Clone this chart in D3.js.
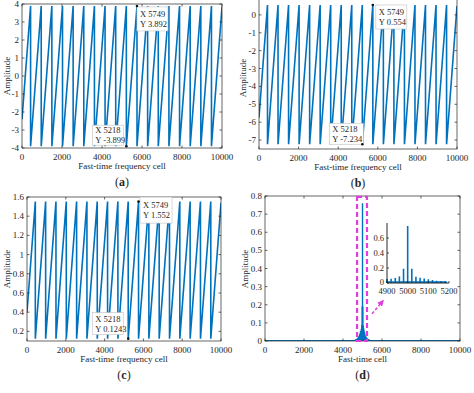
<!DOCTYPE html>
<html><head><meta charset="utf-8">
<script src="https://cdn.jsdelivr.net/npm/d3@7/dist/d3.min.js"></script>
<style>
body{margin:0;background:#fff}
svg{display:block}
text{font-family:"Liberation Serif","Times New Roman",serif;fill:#262626}
</style></head><body>
<script>
// ---- data ----
const xTicks = [0, 2000, 4000, 6000, 8000, 10000];
const yTicksA = [-4, -3, -2, -1, 0, 1, 2, 3, 4];
const yTicksB = [-7, -6, -5, -4, -3, -2, -1, 0];
const yTicksC = [0.2, 0.4, 0.6, 0.8, 1, 1.2, 1.4, 1.6];
const yTicksD = [0, 0.1, 0.2, 0.3, 0.4, 0.5, 0.6, 0.7, 0.8];
// cells where the sawtooth wraps from its peak back to its trough
const wrapCells = [430, 962, 1494, 2026, 2558, 3090, 3622, 4154, 4686, 5218, 5750, 6282, 6814, 7346, 7878, 8410, 8942, 9474];
// trough / peak of each sawtooth
const extA = [-3.899, 3.892];
const extB = [-7.234, 0.554];
const extC = [0.1243, 1.552];
// value at first and last cell
const endsA = [-2.4, 3.85];
const endsB = [-5.75, 0.5];
const endsC = [0.40, 1.54];
// data tips (cells)
const tipCells = [5218, 5749];
// spectrum around the peak (panel d)
const specCells = [4600,4620,4640,4660,4680,4700,4720,4740,4760,4780,4800,4820,4840,4860,4880,4900,4920,4940,4960,4980,5000,5020,5040,5060,5080,5100,5120,5140,5160,5180,5200,5220,5240,5260,5280,5300,5320,5340,5360,5380,5400];
const specVals  = [0.006,0.007,0.008,0.009,0.010,0.011,0.013,0.015,0.017,0.020,0.023,0.027,0.032,0.038,0.045,0.055,0.057,0.068,0.088,0.19,0.76,0.19,0.085,0.07,0.06,0.05,0.04,0.03,0.027,0.022,0.019,0.016,0.014,0.012,0.011,0.010,0.009,0.008,0.007,0.006,0.005];
const specFloor = 0.002;
const insetXTicks = [4900, 5000, 5100, 5200];
const insetYTicks = [0, 0.2, 0.4, 0.6];

const W = 474, H = 393;
const BLUE = "#0072BD", AX = "#262626", MAG = "#E03FE0";
const svg = d3.select("body").append("svg").attr("width", W).attr("height", H);

function sawtooth(ext, ends) {
  const pts = [[0, ends[0]]];
  wrapCells.forEach(c => { pts.push([c - 1, ext[1]]); pts.push([c, ext[0]]); });
  pts.push([10000, ends[1]]);
  return pts;
}

function panel(o) {
  const g = svg.append("g");
  const x = d3.scaleLinear().domain([0, 10000]).range(o.xr);
  const y = d3.scaleLinear().domain(o.yd).range(o.yr);
  const clipId = "clip" + o.id;
  svg.append("clipPath").attr("id", clipId).append("rect")
    .attr("x", o.xr[0]).attr("y", o.yr[1]).attr("width", o.xr[1] - o.xr[0]).attr("height", o.yr[0] - o.yr[1]);
  const plot = g.append("g").attr("clip-path", `url(#${clipId})`);
  o.draw && o.draw(plot, x, y);
  g.append("rect").attr("x", o.xr[0]).attr("y", o.yr[1]).attr("width", o.xr[1] - o.xr[0]).attr("height", o.yr[0] - o.yr[1])
    .attr("fill", "none").attr("stroke", AX).attr("stroke-width", 0.7);
  const tl = 2.5;
  xTicks.forEach(t => {
    const px = x(t);
    g.append("line").attr("x1", px).attr("x2", px).attr("y1", o.yr[0]).attr("y2", o.yr[0] - tl).attr("stroke", AX).attr("stroke-width", 0.7);
    g.append("line").attr("x1", px).attr("x2", px).attr("y1", o.yr[1]).attr("y2", o.yr[1] + tl).attr("stroke", AX).attr("stroke-width", 0.7);
    g.append("text").attr("x", px).attr("y", o.yr[0] + 12).attr("text-anchor", "middle").attr("font-size", 9).text(t);
  });
  o.yt.forEach(t => {
    const py = y(t);
    g.append("line").attr("x1", o.xr[0]).attr("x2", o.xr[0] + tl).attr("y1", py).attr("y2", py).attr("stroke", AX).attr("stroke-width", 0.7);
    g.append("line").attr("x1", o.xr[1]).attr("x2", o.xr[1] - tl).attr("y1", py).attr("y2", py).attr("stroke", AX).attr("stroke-width", 0.7);
    g.append("text").attr("x", o.xr[0] - 3).attr("y", py + 3).attr("text-anchor", "end").attr("font-size", 9).text(t);
  });
  const cx = (o.xr[0] + o.xr[1]) / 2;
  g.append("text").attr("x", cx).attr("y", o.yr[0] + 21).attr("text-anchor", "middle").attr("font-size", 9).text(o.xlabel);
  const lab = g.append("text").attr("x", cx).attr("y", o.yr[0] + 38).attr("text-anchor", "middle").attr("font-size", 12);
  lab.append("tspan").text("(");
  lab.append("tspan").attr("font-weight", "bold").text(o.id);
  lab.append("tspan").text(")");
  g.append("text").attr("transform", `translate(${o.ylx},${o.yly}) rotate(-90)`).attr("text-anchor", "middle").attr("font-size", 9).text("Amplitude");
  o.after && o.after(g, x, y);
  return {x, y};
}

function drawSaw(ext, ends) {
  return (plot, x, y) => {
    plot.append("path").datum(sawtooth(ext, ends))
      .attr("d", d3.line().x(d => x(d[0])).y(d => y(d[1])))
      .attr("fill", "none").attr("stroke", BLUE).attr("stroke-width", 1.6).attr("stroke-linejoin", "miter");
  };
}

function tip(g, px, py, bx, by, bw, bh, cell, val) {
  g.append("rect").attr("x", bx).attr("y", by).attr("width", bw).attr("height", bh)
    .attr("fill", "#fff").attr("stroke", "#c0c0c0").attr("stroke-width", 0.6);
  g.append("text").attr("x", bx + 3).attr("y", by + bh / 2 - 2).attr("font-size", 8.5).attr("fill", "#111").text("X " + cell);
  g.append("text").attr("x", bx + 3).attr("y", by + bh / 2 + 8).attr("font-size", 8.5).attr("fill", "#111").text("Y " + val);
  g.append("circle").attr("cx", px).attr("cy", py).attr("r", 1.3).attr("fill", "#111");
}

function sawTips(ext, hiBox, loBox) {
  return (g, x, y) => {
    const hx = x(tipCells[1]), hy = y(ext[1]);
    tip(g, hx, hy, hx + hiBox[0], hy + hiBox[1], hiBox[2], hiBox[3], tipCells[1], ext[1]);
    const lx = x(tipCells[0]), ly = y(ext[0]);
    tip(g, lx, ly, lx + loBox[0], ly + loBox[1], loBox[2], loBox[3], tipCells[0], ext[0]);
  };
}

panel({id: "a", xr: [22, 222], yr: [148, 4], yd: [-4, 4], yt: yTicksA, xlabel: "Fast-time frequency cell",
  ylx: 10, yly: 76, draw: drawSaw(extA, endsA), after: sawTips(extA, [0, 1, 31, 24], [-34, -21, 31, 20])});
panel({id: "b", xr: [259, 457], yr: [149, -3], yd: [-7.5, 1], yt: yTicksB, xlabel: "Fast-time frequency cell",
  ylx: 246, yly: 78, draw: drawSaw(extB, endsB), after: sawTips(extB, [3, 0, 31, 24], [-33, -21, 34, 21])});
panel({id: "c", xr: [27, 221], yr: [341, 197], yd: [0.1, 1.6], yt: yTicksC, xlabel: "Fast-time frequency cell",
  ylx: 10, yly: 269, draw: drawSaw(extC, endsC), after: sawTips(extC, [1.5, -4.5, 32, 26], [-36, -26, 31, 22])});

panel({id: "d", xr: [265, 460], yr: [341, 196], yd: [0, 0.8], yt: yTicksD, xlabel: "Fast-time cell",
  ylx: 248, yly: 269,
  draw: (plot, x, y) => {
    plot.append("line").attr("x1", x(0)).attr("x2", x(10000)).attr("y1", y(specFloor)).attr("y2", y(specFloor))
      .attr("stroke", BLUE).attr("stroke-width", 1.4);
    const p = d3.path();
    specCells.forEach((c, i) => { p.moveTo(x(c), y(0)); p.lineTo(x(c), y(specVals[i])); });
    plot.append("path").attr("d", p.toString()).attr("stroke", BLUE).attr("stroke-width", 1.4).attr("fill", "none");
  },
  after: (g, x, y) => {
    g.append("rect").attr("x", x(4720)).attr("y", y(0.795)).attr("width", x(5230) - x(4720)).attr("height", y(0) - y(0.795))
      .attr("fill", "none").attr("stroke", MAG).attr("stroke-width", 2.2).attr("stroke-dasharray", "5,3");
    const defs = svg.append("defs");
    defs.append("marker").attr("id", "arr").attr("viewBox", "0 0 10 10").attr("refX", 8).attr("refY", 5)
      .attr("markerWidth", 4).attr("markerHeight", 4).attr("orient", "auto")
      .append("path").attr("d", "M0,0L10,5L0,10z").attr("fill", MAG);
    g.append("line").attr("x1", x(5490)).attr("y1", y(0.15)).attr("x2", x(6050)).attr("y2", y(0.222))
      .attr("stroke", MAG).attr("stroke-width", 1.6).attr("stroke-dasharray", "3,2").attr("marker-end", "url(#arr)");
    // inset
    const ix = d3.scaleLinear().domain([4900, 5200]).range([387, 449]);
    const iy = d3.scaleLinear().domain([0, 0.8]).range([283, 223]);
    const ig = g.append("g");
    ig.append("line").attr("x1", ix(4900)).attr("x2", ix(5190)).attr("y1", iy(0) - 1).attr("y2", iy(0) - 1)
      .attr("stroke", BLUE).attr("stroke-width", 1.6);
    specCells.forEach((c, i) => {
      if (c < 4900 || c > 5190) return;
      ig.append("line").attr("x1", ix(c)).attr("x2", ix(c)).attr("y1", iy(0)).attr("y2", iy(specVals[i]))
        .attr("stroke", BLUE).attr("stroke-width", 1.6);
    });
    ig.append("line").attr("x1", ix(4900)).attr("x2", ix(5200)).attr("y1", iy(0)).attr("y2", iy(0)).attr("stroke", "#111").attr("stroke-width", 0.9);
    ig.append("line").attr("x1", ix(4900)).attr("x2", ix(4900)).attr("y1", iy(0)).attr("y2", iy(0.8)).attr("stroke", "#111").attr("stroke-width", 0.9);
    insetXTicks.forEach(t => {
      ig.append("line").attr("x1", ix(t)).attr("x2", ix(t)).attr("y1", iy(0)).attr("y2", iy(0) - 2).attr("stroke", "#111").attr("stroke-width", 0.7);
      ig.append("text").attr("x", ix(t)).attr("y", iy(0) + 11).attr("text-anchor", "middle").attr("font-size", 8.5).text(t);
    });
    insetYTicks.forEach(t => {
      ig.append("line").attr("x1", ix(4900)).attr("x2", ix(4900) + 2).attr("y1", iy(t)).attr("y2", iy(t)).attr("stroke", "#111").attr("stroke-width", 0.7);
      ig.append("text").attr("x", ix(4900) - 3).attr("y", iy(t) + (t === 0 ? 1.5 : 3)).attr("text-anchor", "end").attr("font-size", 8.5).text(t);
    });
  }
});
</script>
</body></html>
